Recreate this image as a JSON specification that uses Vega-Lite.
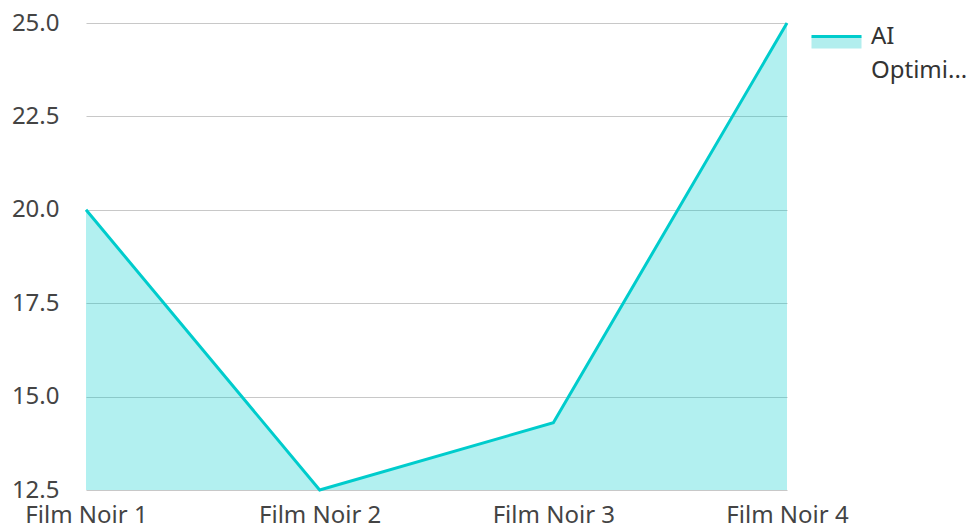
{
  "$schema": "https://vega.github.io/schema/vega-lite/v6.json",
  "autosize": {"type": "none"},
  "width": 701,
  "height": 467,
  "padding": {"left": 86, "top": 23, "right": 186, "bottom": 41},
  "background": "white",
  "config": {
    "font": "Noto Sans",
    "view": {"stroke": null}
  },
  "data": {
    "values": [
      {"film": "Film Noir 1", "series": "AI Optimized", "value": 20.0},
      {"film": "Film Noir 2", "series": "AI Optimized", "value": 12.5},
      {"film": "Film Noir 3", "series": "AI Optimized", "value": 14.3},
      {"film": "Film Noir 4", "series": "AI Optimized", "value": 25.0}
    ]
  },
  "encoding": {
    "x": {
      "field": "film",
      "type": "ordinal",
      "scale": {"type": "point", "padding": 0},
      "axis": {
        "title": null,
        "labelAngle": 0,
        "labelFontSize": 24,
        "labelColor": "#444444",
        "labelPadding": 13,
        "ticks": false,
        "domain": false,
        "grid": false
      }
    },
    "y": {
      "field": "value",
      "type": "quantitative",
      "scale": {"domain": [12.5, 25], "nice": false, "zero": false},
      "axis": {
        "title": null,
        "values": [12.5, 15, 17.5, 20, 22.5, 25],
        "format": ".1f",
        "labelFontSize": 24,
        "labelColor": "#444444",
        "labelPadding": 27,
        "ticks": false,
        "tickSize": 0,
        "domain": false,
        "gridColor": "#c8c8c8",
        "gridWidth": 1.2
      }
    }
  },
  "layer": [
    {
      "mark": {"type": "area", "color": "#00cccc", "opacity": 0.3, "clip": true}
    },
    {
      "mark": {"type": "line", "strokeWidth": 3},
      "encoding": {
        "stroke": {
          "field": "series",
          "type": "nominal",
          "scale": {"range": ["#00cccc"]},
          "legend": {
            "title": null,
            "orient": "none",
            "legendX": 724,
            "legendY": -25,
            "padding": 0,
            "labelFontSize": 24,
            "labelColor": "#333333",
            "labelOffset": 8,
            "labelExpr": "['AI', 'Optimi...']",
            "labelBaseline": "top",
            "symbolType": "M-1,0.48H1V0.96H-1Z",
            "symbolSize": 2500,
            "symbolStrokeWidth": 3,
            "symbolDash": [50, 100],
            "encode": {
              "labels": {
                "update": {
                  "lineHeight": {"value": 34}
                }
              },
              "symbols": {
                "update": {
                  "fill": {"value": "#b2eeee"},
                  "stroke": {"value": "#00cccc"},
                  "opacity": {"value": 1}
                }
              }
            }
          }
        }
      }
    }
  ]
}
